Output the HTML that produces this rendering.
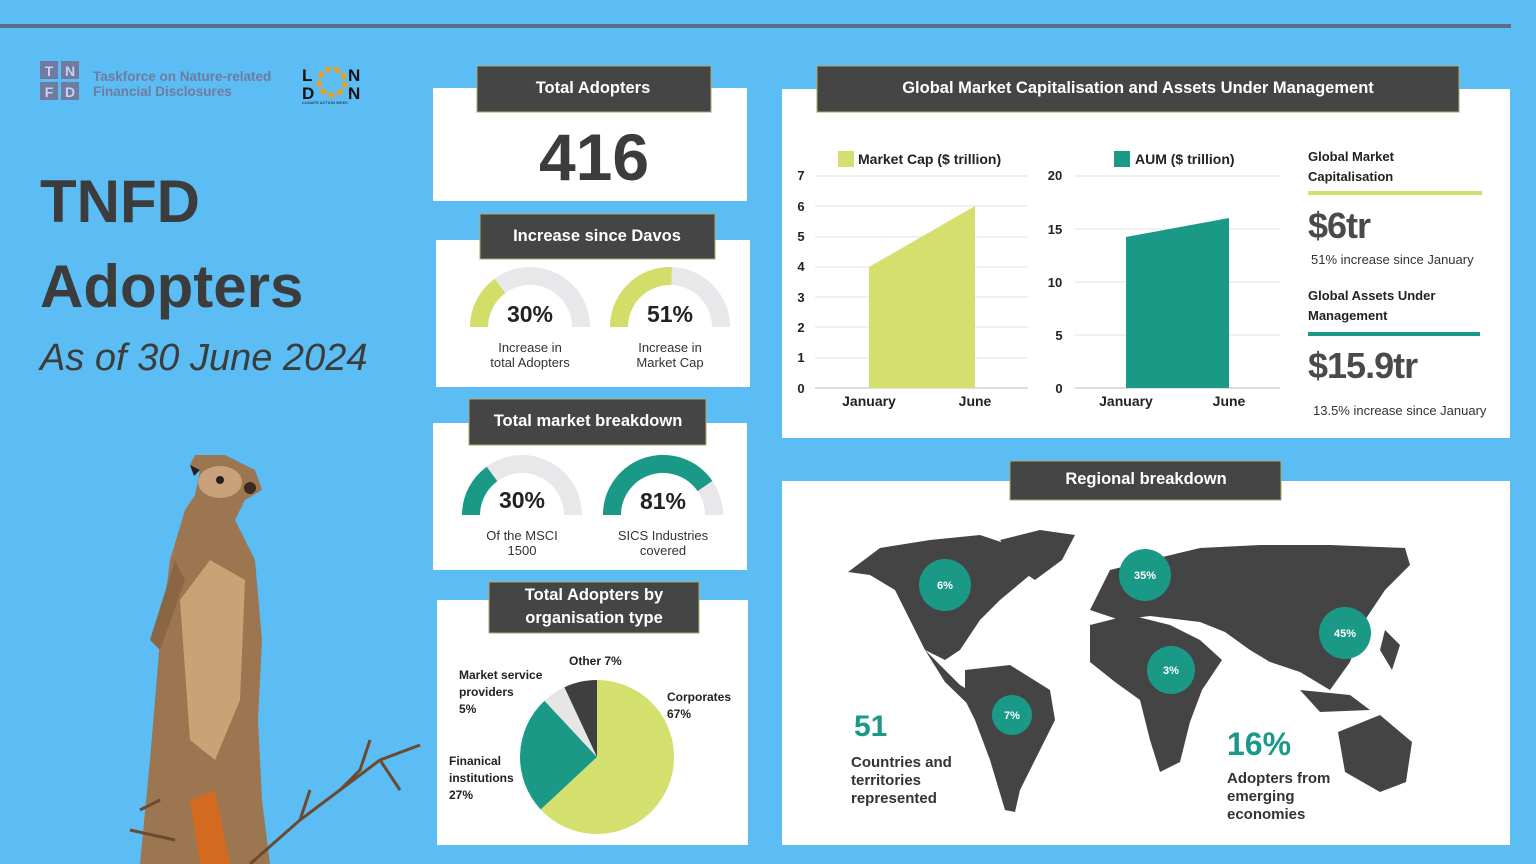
<!DOCTYPE html>
<html><head><meta charset="utf-8"><style>
html,body{margin:0;padding:0;background:#5cbdf5;}
svg{display:block;font-family:"Liberation Sans",sans-serif;}
</style></head><body>
<svg width="1536" height="864" viewBox="0 0 1536 864" xmlns="http://www.w3.org/2000/svg">
<rect width="1536" height="864" fill="#5cbdf5"/>
<rect x="0" y="24" width="1511" height="4" fill="#5b6a8e"/>
<g fill="#6f7ba0">
<rect x="40" y="61" width="18" height="18"/><rect x="61" y="61" width="18" height="18"/>
<rect x="40" y="82" width="18" height="18"/><rect x="61" y="82" width="18" height="18"/>
</g>
<g fill="#c9d3ea" font-size="14" font-weight="bold" text-anchor="middle">
<text x="49" y="76">T</text><text x="70" y="76">N</text><text x="49" y="97">F</text><text x="70" y="97">D</text></g>
<text x="93" y="81" font-size="13.5" font-weight="bold" fill="#6f7ba0">Taskforce on Nature-related</text>
<text x="93" y="96" font-size="13.5" font-weight="bold" fill="#6f7ba0">Financial Disclosures</text>
<g font-size="17" font-weight="bold" fill="#111"><text x="302" y="81">L</text><text x="348" y="81">N</text><text x="302" y="99">D</text><text x="348" y="99">N</text></g>
<circle cx="332" cy="82" r="13" fill="none" stroke="#e5a12a" stroke-width="5" stroke-dasharray="6 3"/>
<text x="302" y="104" font-size="4" fill="#111">CLIMATE ACTION WEEK</text>
<text x="40" y="222" font-size="60" font-weight="bold" fill="#3c3c3c">TNFD</text>
<text x="40" y="307" font-size="60" font-weight="bold" fill="#3c3c3c">Adopters</text>
<text x="40" y="370" font-size="38" font-style="italic" fill="#3c3c3c">As of 30 June 2024</text>
<g>
<path d="M140 864 L150 760 L160 640 L170 560 L185 510 L195 495 L200 470 L190 465 L195 455 L225 455 L255 470 L262 490 L245 500 L235 520 L255 560 L262 640 L258 720 L262 800 L270 864 Z" fill="#9c7650"/>
<path d="M180 600 L210 560 L245 580 L240 700 L215 760 L190 740 Z" fill="#c9a375"/>
<ellipse cx="220" cy="482" rx="22" ry="16" fill="#c7a27a"/>
<circle cx="220" cy="480" r="4" fill="#222"/>
<circle cx="250" cy="488" r="6" fill="#3a2a20"/>
<path d="M200 470 L190 465 L194 476 Z" fill="#222"/>
<path d="M175 560 L150 640 L160 650 L185 580 Z" fill="#8a6644"/>
<path d="M190 800 L200 864 L230 864 L215 790 Z" fill="#d46a20"/>
<g stroke="#6b4a30" stroke-width="3" fill="none">
<path d="M250 864 L300 820 L340 790 L380 760 L420 745"/><path d="M300 820 L310 790"/><path d="M340 790 L360 770 L370 740"/><path d="M140 810 L160 800"/><path d="M130 830 L175 840"/><path d="M380 760 L400 790"/></g>
</g>
<g fill="#fff">
<rect x="433" y="88" width="314" height="113"/>
<rect x="436" y="240" width="314" height="147"/>
<rect x="433" y="423" width="314" height="147"/>
<rect x="437" y="600" width="311" height="245"/>
<rect x="782" y="89" width="728" height="349"/>
<rect x="782" y="481" width="728" height="364"/>
</g>
<g fill="#454545" stroke="#a9aa6a" stroke-width="1">
<rect x="477" y="66" width="234" height="46"/>
<rect x="480" y="214" width="235" height="45"/>
<rect x="469" y="399" width="237" height="46"/>
<rect x="489" y="582" width="210" height="51"/>
<rect x="817" y="66" width="642" height="46"/>
<rect x="1010" y="461" width="271" height="39"/>
</g>
<g fill="#fff" font-size="16.5" font-weight="bold" text-anchor="middle">
<text x="593" y="93">Total Adopters</text>
<text x="597" y="241">Increase since Davos</text>
<text x="588" y="426">Total market breakdown</text>
<text x="594" y="600">Total Adopters by</text>
<text x="594" y="623">organisation type</text>
<text x="1138" y="93">Global Market Capitalisation and Assets Under Management</text>
<text x="1146" y="484">Regional breakdown</text>
</g>
<text x="594" y="180" font-size="66" font-weight="bold" fill="#3c3c3c" text-anchor="middle">416</text>
<g fill="none" stroke-width="18">
<path d="M479 327 A51 51 0 0 1 581 327" stroke="#e8e8ea"/>
<path d="M479 327 A51 51 0 0 1 500 286" stroke="#d2de68"/>
<path d="M619 327 A51 51 0 0 1 721 327" stroke="#e8e8ea"/>
<path d="M619 327 A51 51 0 0 1 671.6 276" stroke="#d2de68"/>
<path d="M471 515 A51 51 0 0 1 573 515" stroke="#e8e8ea"/>
<path d="M471 515 A51 51 0 0 1 492 474" stroke="#1b9987"/>
<path d="M612 515 A51 51 0 0 1 714 515" stroke="#e8e8ea"/>
<path d="M612 515 A51 51 0 0 1 705 486" stroke="#1b9987"/>
</g>
<g font-weight="bold" fill="#222" font-size="23" text-anchor="middle">
<text x="530" y="322">30%</text><text x="670" y="322">51%</text>
<text x="522" y="508">30%</text><text x="663" y="509">81%</text></g>
<g fill="#333" font-size="13" text-anchor="middle">
<text x="530" y="352">Increase in</text><text x="530" y="367">total Adopters</text>
<text x="670" y="352">Increase in</text><text x="670" y="367">Market Cap</text>
<text x="522" y="540">Of the MSCI</text><text x="522" y="555">1500</text>
<text x="663" y="540">SICS Industries</text><text x="663" y="555">covered</text>
</g>
<path d="M597 757 L597 680 A77 77 0 1 1 540.7 809.5 Z" fill="#d4e06e"/>
<path d="M597 757 L540.7 809.5 A77 77 0 0 1 544.5 700.7 Z" fill="#1b9987"/>
<path d="M597 757 L544.5 700.7 A77 77 0 0 1 564.4 687.2 Z" fill="#e6e6e6"/>
<path d="M597 757 L564.4 687.2 A77 77 0 0 1 597 680 Z" fill="#3f3f3f"/>
<g font-size="12" font-weight="bold" fill="#222">
<text x="569" y="665">Other 7%</text>
<text x="459" y="679">Market service</text><text x="459" y="696">providers</text><text x="459" y="713">5%</text>
<text x="667" y="701">Corporates</text><text x="667" y="718">67%</text>
<text x="449" y="765">Finanical</text><text x="449" y="782">institutions</text><text x="449" y="799">27%</text>
</g>
<g stroke="#e2e2e2" stroke-width="1">
<line x1="815" y1="176" x2="1028" y2="176"/><line x1="815" y1="206" x2="1028" y2="206"/><line x1="815" y1="237" x2="1028" y2="237"/><line x1="815" y1="267" x2="1028" y2="267"/><line x1="815" y1="297" x2="1028" y2="297"/><line x1="815" y1="327" x2="1028" y2="327"/><line x1="815" y1="358" x2="1028" y2="358"/>
<line x1="1075" y1="176" x2="1280" y2="176"/><line x1="1075" y1="229" x2="1280" y2="229"/><line x1="1075" y1="282" x2="1280" y2="282"/><line x1="1075" y1="335" x2="1280" y2="335"/>
</g>
<line x1="815" y1="388" x2="1028" y2="388" stroke="#bbb"/><line x1="1075" y1="388" x2="1280" y2="388" stroke="#bbb"/>
<polygon points="869,388 869,267 975,206 975,388" fill="#d5df6e"/>
<polygon points="1126,388 1126,237 1229,218 1229,388" fill="#1b9987"/>
<g font-size="13" font-weight="bold" fill="#222" text-anchor="middle">
<text x="801" y="180">7</text><text x="801" y="211">6</text><text x="801" y="241">5</text><text x="801" y="271">4</text><text x="801" y="302">3</text><text x="801" y="332">2</text><text x="801" y="362">1</text><text x="801" y="393">0</text>
<text x="1055" y="180">20</text><text x="1055" y="234">15</text><text x="1055" y="287">10</text><text x="1059" y="340">5</text><text x="1059" y="393">0</text>
<text x="869" y="406" font-size="14">January</text><text x="975" y="406" font-size="14">June</text>
<text x="1126" y="406" font-size="14">January</text><text x="1229" y="406" font-size="14">June</text>
</g>
<rect x="838" y="151" width="16" height="16" fill="#d5df6e"/>
<text x="858" y="164" font-size="14" font-weight="bold" fill="#222">Market Cap ($ trillion)</text>
<rect x="1114" y="151" width="16" height="16" fill="#1b9987"/>
<text x="1135" y="164" font-size="14" font-weight="bold" fill="#222">AUM ($ trillion)</text>
<g fill="#222" font-size="13" font-weight="bold">
<text x="1308" y="161">Global Market</text><text x="1308" y="181">Capitalisation</text>
<text x="1308" y="300">Global Assets Under</text><text x="1308" y="320">Management</text></g>
<rect x="1308" y="191" width="174" height="4" fill="#d5df6e"/>
<rect x="1308" y="332" width="172" height="4" fill="#1b9987"/>
<text x="1308" y="238" font-size="36" font-weight="bold" fill="#4a4a4a" letter-spacing="-1">$6tr</text>
<text x="1308" y="378" font-size="36" font-weight="bold" fill="#4a4a4a" letter-spacing="-1">$15.9tr</text>
<text x="1311" y="264" font-size="13" fill="#333">51% increase since January</text>
<text x="1313" y="415" font-size="13" fill="#333">13.5% increase since January</text>
<g fill="#444">
<polygon points="848,572 880,548 930,540 980,535 1010,545 1040,540 1030,575 1000,600 980,620 960,650 945,660 925,650 910,620 895,590 870,575"/>
<polygon points="1000,540 1040,530 1075,535 1062,560 1035,580 1020,570"/>
<polygon points="925,650 960,685 985,700 976,712 945,682"/>
<polygon points="965,670 1010,665 1050,690 1055,720 1035,760 1020,790 1015,812 1005,810 990,760 975,720 965,700"/>
<polygon points="1090,610 1110,570 1150,560 1200,548 1260,545 1330,545 1405,548 1410,565 1385,590 1365,620 1350,662 1330,690 1300,672 1270,662 1250,650 1225,632 1200,622 1150,616 1120,620"/>
<polygon points="1090,625 1130,615 1170,625 1200,640 1222,660 1202,690 1190,722 1180,762 1160,772 1150,740 1140,700 1115,682 1090,662"/>
<polygon points="1338,732 1380,715 1412,742 1406,782 1380,792 1345,772"/>
<polygon points="1300,690 1350,695 1370,710 1320,712"/>
<polygon points="1385,630 1400,645 1392,670 1380,650"/>
</g>
<g fill="#1b9987"><circle cx="945" cy="585" r="26"/><circle cx="1145" cy="575" r="26"/><circle cx="1345" cy="633" r="26"/><circle cx="1171" cy="670" r="24"/><circle cx="1012" cy="715" r="20"/></g>
<g fill="#fff" font-size="11" font-weight="bold" text-anchor="middle">
<text x="945" y="589">6%</text><text x="1145" y="579">35%</text><text x="1345" y="637">45%</text><text x="1171" y="674">3%</text><text x="1012" y="719">7%</text></g>
<text x="854" y="736" font-size="30" font-weight="bold" fill="#1b9987">51</text>
<g font-size="15" font-weight="bold" fill="#333">
<text x="851" y="767">Countries and</text><text x="851" y="785">territories</text><text x="851" y="803">represented</text>
<text x="1227" y="783">Adopters from</text><text x="1227" y="801">emerging</text><text x="1227" y="819">economies</text></g>
<text x="1227" y="755" font-size="32" font-weight="bold" fill="#1b9987">16%</text>
</svg>
</body></html>
